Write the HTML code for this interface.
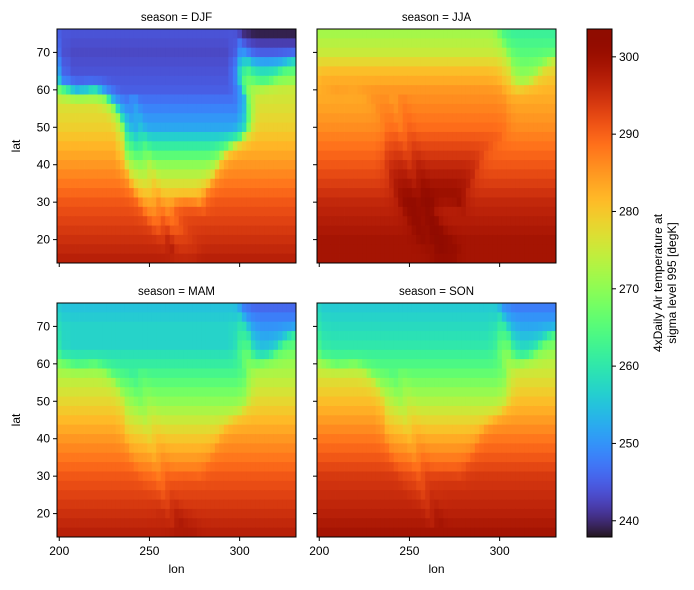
<!DOCTYPE html>
<html><head><meta charset="utf-8"><style>
body{margin:0;background:#fff;width:694px;height:590px;overflow:hidden;font-family:"Liberation Sans","DejaVu Sans",sans-serif;}
</style></head><body>
<svg id="s" width="694" height="590" xmlns="http://www.w3.org/2000/svg" style="position:absolute;left:0;top:0" font-family="Liberation Sans, DejaVu Sans, sans-serif" font-size="12" fill="#000">
</svg>
<script>
function turbo(x){x=Math.max(0,Math.min(1,x));
var r=0.13572138+x*(4.61539260+x*(-42.66032258+x*(132.13108234+x*(-152.94239396+x*59.28637943))));
var g=0.09140261+x*(2.19418839+x*(4.84296658+x*(-14.18503333+x*(4.27729857+x*2.82956604))));
var b=0.10667330+x*(12.64194608+x*(-60.58204836+x*(110.36276771+x*(-89.90310912+x*27.34824973))));
function c(v){return Math.round(Math.max(0,Math.min(1,v))*255);}
return "rgb("+c(r)+","+c(g)+","+c(b)+")";}
var VMIN=237.9,VMAX=303.6;
var land=[[200,61],[210,59],[220,60],[225,59],[232,55],[236,50],[236,45],[237,40],[240,35],[245,30],[250,25],[255,20],[262,16],[265,13],[275,13],[278,18],[270,22],[262,28],[265,30],[275,30],[280,27],[280,32],[284,35],[290,42],[295,45],[300,46],[305,50],[304,58],[300,62],[298,78],[200,78]];
var green=[[308,60],[318,62],[325,67],[333,70],[333,78],[298,78],[300,75],[305,70]];
function inPoly(p,x,y){var c=false;for(var i=0,j=p.length-1;i<p.length;j=i++){var xi=p[i][0],yi=p[i][1],xj=p[j][0],yj=p[j][1];
if(((yi>y)!=(yj>y))&&(x<(xj-xi)*(y-yi)/(yj-yi)+xi))c=!c;}return c;}
var NX=53,NY=25;
function mk(poly){var m=[];for(var i=0;i<NY;i++){m.push([]);for(var j=0;j<NX;j++){var lat=75-2.5*i,lon=200+2.5*j,s=0;
for(var a=0;a<4;a++)for(var b=0;b<4;b++){if(inPoly(poly,lon-1.25+0.625*(a+.5),lat-1.25+0.625*(b+.5)))s++;}m[i].push(s/16);}}
var o=[];for(var i=0;i<NY;i++){o.push([]);for(var j=0;j<NX;j++){var s=0,w=0;for(var di=-1;di<=1;di++)for(var dj=-2;dj<=2;dj++){var ii=i+di,jj=j+dj;if(ii<0||jj<0||ii>=NY||jj>=NX)continue;var ww=(di==0&&dj==0)?3:1;s+=m[ii][jj]*ww;w+=ww;}o[i].push(0.35*m[i][j]+0.65*s/w);}}return o;}
var LM=mk(land),GM=mk(green);
function interp(tab,lat){var k=[15,20,30,40,50,60,65,70,75];for(var i=0;i<k.length-1;i++){if(lat<=k[i+1]){var t=(lat-k[i])/(k[i+1]-k[i]);return tab[i]+(tab[i+1]-tab[i])*Math.max(0,t);}}return tab[tab.length-1];}
var S={
DJF:{oc:[297,295,291,285,279,275,266,253,247],la:[-1,-2,-8,-15,-27,-30,-22,-10,-3],g:-8,r:3},
JJA:{oc:[299,299,296,291,286,282,279,275,272],la:[2,3,6,5,3,3,2,0,0],g:-10,r:-1.5},
MAM:{oc:[297,295,291,285,278,271,266,262,258],la:[1,1,-2,-5,-8,-10,-9,-5,-3],g:-12,r:-1.5},
SON:{oc:[299,297,294,288,281,274,269,264,260],la:[0,0,-2,-5,-8,-10,-9,-6,-4],g:-12,r:-1.5}};
var svg=document.getElementById('s');var NS="http://www.w3.org/2000/svg";
function el(t,a,txt){var e=document.createElementNS(NS,t);for(var k in a)e.setAttribute(k,a[k]);if(txt!==undefined)e.textContent=txt;svg.appendChild(e);return e;}
function panel(name,x0,y0,showLat,showLon){var p=S[name];var w=239/NX,h=234/NY;
for(var i=0;i<NY;i++)for(var j=0;j<NX;j++){var lat=75-2.5*i,lon=200+2.5*j;
var T=interp(p.oc,lat)+LM[i][j]*interp(p.la,lat)+GM[i][j]*p.g;
var lr=240+(60-lat)*(22/43);var d=lon-lr;
if(lat<60&&lat>15){T+=p.r*Math.exp(-d*d/6)*LM[i][j];if(name!="DJF")T+=1*Math.exp(-(d-5)*(d-5)/10)*LM[i][j];}
el('rect',{x:(x0+j*w).toFixed(2),y:(y0+i*h).toFixed(2),width:(w+0.4).toFixed(2),height:(h+0.4).toFixed(2),fill:turbo((T-VMIN)/(VMAX-VMIN))});}
el('rect',{x:x0,y:y0,width:239,height:234,fill:'none',stroke:'#000','stroke-width':1});
el('text',{x:x0+119.5,y:y0-8,'text-anchor':'middle','font-size':11.5},'season = '+name);
var pl=239/132.5;
[200,250,300].forEach(function(v){var x=x0+(v-198.75)*pl;el('line',{x1:x,y1:y0+234,x2:x,y2:y0+238,stroke:'#000'});
if(showLon)el('text',{x:x,y:y0+252,'text-anchor':'middle'},v);});
var ph=234/62.5;
[20,30,40,50,60,70].forEach(function(v){var y=y0+(76.25-v)*ph;el('line',{x1:x0-4,y1:y,x2:x0,y2:y,stroke:'#000'});
if(showLat)el('text',{x:x0-7,y:y+4,'text-anchor':'end'},v);});
if(showLat)el('text',{x:20,y:y0+117,'text-anchor':'middle',transform:'rotate(-90 20 '+(y0+117)+')'},'lat');
if(showLon)el('text',{x:x0+119.5,y:y0+270,'text-anchor':'middle'},'lon');}
panel('DJF',57,29,true,false);panel('JJA',317,29,false,false);
panel('MAM',57,303,true,true);panel('SON',317,303,false,true);
var cx=587,cy=29,cw=25,ch=508;
for(var k=0;k<ch;k++){var v=VMAX-(k+0.5)/ch*(VMAX-VMIN);el('rect',{x:cx,y:cy+k,width:cw,height:1.2,fill:turbo((v-VMIN)/(VMAX-VMIN))});}
el('rect',{x:cx,y:cy,width:cw,height:ch,fill:'none',stroke:'#000'});
[240,250,260,270,280,290,300].forEach(function(v){var y=cy+(VMAX-v)/(VMAX-VMIN)*ch;el('line',{x1:cx+cw,y1:y,x2:cx+cw+4,y2:y,stroke:'#000'});
el('text',{x:cx+cw+7,y:y+4},v);});
el('text',{x:662,y:283,'text-anchor':'middle',transform:'rotate(-90 662 283)'},'4xDaily Air temperature at');
el('text',{x:676,y:283,'text-anchor':'middle',transform:'rotate(-90 676 283)'},'sigma level 995 [degK]');
</script>
</body></html>
